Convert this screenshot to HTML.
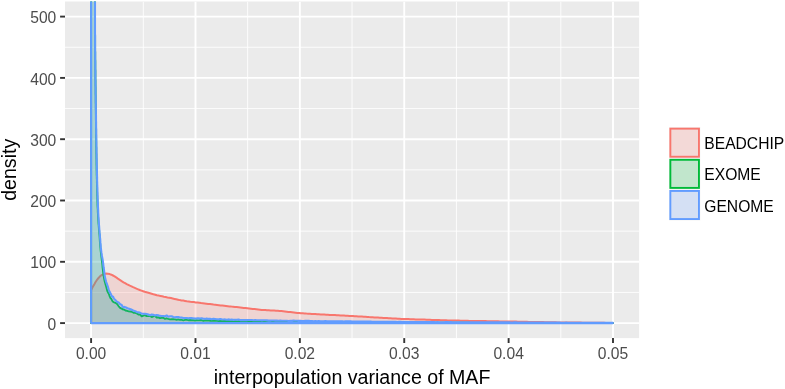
<!DOCTYPE html>
<html lang="en"><head><meta charset="utf-8"><title>interpopulation variance of MAF density</title>
<style>html,body{margin:0;padding:0;background:#fff}svg{display:block}</style></head>
<body>
<svg width="785" height="389" viewBox="0 0 785 389" font-family="'Liberation Sans', Arial, Helvetica, sans-serif">
<rect width="785" height="389" fill="#fff"/>
<rect x="65.0" y="1.5" width="574.1" height="336.6" fill="#EBEBEB"/>
<defs><clipPath id="cp"><rect x="65.0" y="1.5" width="574.1" height="336.6"/></clipPath></defs>
<g clip-path="url(#cp)">
<g stroke="#fff" stroke-width="0.95" stroke-opacity="0.9">
<line x1="143.29" x2="143.29" y1="1.5" y2="338.1"/>
<line x1="247.67" x2="247.67" y1="1.5" y2="338.1"/>
<line x1="352.05" x2="352.05" y1="1.5" y2="338.1"/>
<line x1="456.43" x2="456.43" y1="1.5" y2="338.1"/>
<line x1="560.81" x2="560.81" y1="1.5" y2="338.1"/>
<line y1="292.45" y2="292.45" x1="65.0" x2="639.1"/>
<line y1="231.15" y2="231.15" x1="65.0" x2="639.1"/>
<line y1="169.85" y2="169.85" x1="65.0" x2="639.1"/>
<line y1="108.55" y2="108.55" x1="65.0" x2="639.1"/>
<line y1="47.25" y2="47.25" x1="65.0" x2="639.1"/>
</g>
<g stroke="#fff" stroke-width="1.9">
<line x1="91.10" x2="91.10" y1="1.5" y2="338.1"/>
<line x1="195.48" x2="195.48" y1="1.5" y2="338.1"/>
<line x1="299.86" x2="299.86" y1="1.5" y2="338.1"/>
<line x1="404.24" x2="404.24" y1="1.5" y2="338.1"/>
<line x1="508.62" x2="508.62" y1="1.5" y2="338.1"/>
<line x1="613.00" x2="613.00" y1="1.5" y2="338.1"/>
<line y1="323.10" y2="323.10" x1="65.0" x2="639.1"/>
<line y1="261.80" y2="261.80" x1="65.0" x2="639.1"/>
<line y1="200.50" y2="200.50" x1="65.0" x2="639.1"/>
<line y1="139.20" y2="139.20" x1="65.0" x2="639.1"/>
<line y1="77.90" y2="77.90" x1="65.0" x2="639.1"/>
<line y1="16.60" y2="16.60" x1="65.0" x2="639.1"/>
</g>
<path d="M91.1 323.1 L91.1 290.2 L91.9 288.6 L92.7 287.0 L93.6 285.4 L94.5 283.9 L95.4 282.3 L96.4 280.8 L97.4 279.3 L98.5 278.0 L99.8 276.6 L101.1 275.4 L102.6 274.6 L104.4 273.9 L106.1 273.6 L107.9 273.8 L109.7 274.1 L111.4 274.7 L113.0 275.5 L114.6 276.3 L116.1 277.3 L117.5 278.4 L119.0 279.4 L120.5 280.4 L122.0 281.4 L123.5 282.3 L125.1 283.2 L126.7 284.1 L128.3 284.9 L129.9 285.7 L131.5 286.4 L133.1 287.2 L134.8 287.9 L136.4 288.6 L138.1 289.3 L139.8 290.0 L141.4 290.6 L143.1 291.2 L144.8 291.8 L146.5 292.3 L148.3 292.8 L150.0 293.3 L151.7 293.8 L153.4 294.3 L155.2 294.7 L156.9 295.2 L158.7 295.6 L160.4 295.9 L162.2 296.3 L163.9 296.7 L165.7 297.0 L167.5 297.4 L169.2 297.7 L171.0 298.1 L172.7 298.5 L174.5 298.9 L176.2 299.3 L178.0 299.7 L179.7 300.1 L181.5 300.4 L183.3 300.6 L185.0 300.9 L186.8 301.2 L188.6 301.4 L190.4 301.7 L192.2 301.9 L193.9 302.1 L195.7 302.4 L197.5 302.6 L199.3 302.8 L201.1 303.1 L202.8 303.3 L204.6 303.5 L206.4 303.7 L208.2 303.9 L210.0 304.1 L211.7 304.3 L213.5 304.6 L215.3 304.8 L217.1 305.0 L218.9 305.2 L220.7 305.4 L222.4 305.6 L224.2 305.8 L226.0 306.0 L227.8 306.2 L229.6 306.4 L231.4 306.6 L233.1 306.7 L234.9 306.9 L236.7 307.1 L238.5 307.3 L240.3 307.5 L242.1 307.7 L243.8 307.9 L245.6 308.1 L247.4 308.3 L249.2 308.5 L251.0 308.7 L252.8 308.9 L254.5 309.1 L256.3 309.3 L258.1 309.5 L259.9 309.7 L261.7 309.9 L263.5 310.0 L265.3 310.1 L267.0 310.2 L268.8 310.3 L270.6 310.4 L272.4 310.5 L274.2 310.6 L276.0 310.7 L277.8 310.8 L279.6 311.0 L281.4 311.1 L283.2 311.3 L284.9 311.5 L286.7 311.7 L288.5 311.9 L290.3 312.1 L292.1 312.3 L293.9 312.5 L295.6 312.7 L297.4 312.9 L299.2 313.0 L301.0 313.2 L302.8 313.3 L304.6 313.4 L306.4 313.6 L308.2 313.7 L309.9 313.8 L311.7 313.9 L313.5 314.0 L315.3 314.1 L317.1 314.2 L318.9 314.3 L320.7 314.4 L322.5 314.5 L324.3 314.6 L326.1 314.7 L327.9 314.8 L329.7 314.9 L331.4 315.0 L333.2 315.0 L335.0 315.1 L336.8 315.2 L338.6 315.3 L340.4 315.4 L342.2 315.5 L344.0 315.6 L345.8 315.7 L347.6 315.8 L349.4 315.9 L351.2 316.0 L353.0 316.1 L354.7 316.2 L356.5 316.3 L358.3 316.4 L360.1 316.5 L361.9 316.6 L363.7 316.7 L365.5 316.8 L367.3 316.9 L369.1 317.1 L370.9 317.2 L372.7 317.3 L374.4 317.4 L376.2 317.5 L378.0 317.6 L379.8 317.7 L381.6 317.8 L383.4 317.9 L385.2 318.0 L387.0 318.1 L388.8 318.2 L390.6 318.3 L392.4 318.4 L394.2 318.5 L395.9 318.6 L397.7 318.7 L399.5 318.8 L401.3 318.9 L403.1 318.9 L404.9 319.0 L406.7 319.1 L408.5 319.1 L410.3 319.2 L412.1 319.3 L413.9 319.3 L415.7 319.4 L417.5 319.4 L419.3 319.5 L421.0 319.5 L422.8 319.6 L424.6 319.6 L426.4 319.7 L428.2 319.8 L430.0 319.8 L431.8 319.9 L433.6 319.9 L435.4 320.0 L437.2 320.1 L439.0 320.1 L440.8 320.2 L442.6 320.2 L444.4 320.3 L446.2 320.3 L447.9 320.4 L449.7 320.4 L451.5 320.5 L453.3 320.5 L455.1 320.6 L456.9 320.6 L458.7 320.6 L460.5 320.7 L462.3 320.7 L464.1 320.8 L465.9 320.8 L467.7 320.8 L469.5 320.9 L471.3 320.9 L473.1 320.9 L474.9 321.0 L476.6 321.0 L478.4 321.0 L480.2 321.0 L482.0 321.1 L483.8 321.1 L485.6 321.1 L487.4 321.2 L489.2 321.2 L491.0 321.2 L492.8 321.2 L494.6 321.3 L496.4 321.3 L498.2 321.3 L500.0 321.4 L501.8 321.4 L503.6 321.4 L505.4 321.4 L507.1 321.5 L508.9 321.5 L510.7 321.5 L512.5 321.6 L514.3 321.6 L516.1 321.6 L517.9 321.7 L519.7 321.7 L521.5 321.7 L523.3 321.8 L525.1 321.8 L526.9 321.8 L528.7 321.9 L530.5 321.9 L532.3 321.9 L534.1 322.0 L535.9 322.0 L537.6 322.0 L539.4 322.1 L541.2 322.1 L543.0 322.1 L544.8 322.2 L546.6 322.2 L548.4 322.2 L550.2 322.3 L552.0 322.3 L553.8 322.3 L555.6 322.3 L557.4 322.4 L559.2 322.4 L561.0 322.4 L562.8 322.4 L564.6 322.5 L566.4 322.5 L568.1 322.5 L569.9 322.5 L571.7 322.5 L573.5 322.6 L575.3 322.6 L577.1 322.6 L578.9 322.6 L580.7 322.6 L582.5 322.7 L584.3 322.7 L586.1 322.7 L587.9 322.7 L589.7 322.7 L591.5 322.7 L593.3 322.8 L595.1 322.8 L596.9 322.8 L598.6 322.8 L600.4 322.8 L602.2 322.8 L604.0 322.8 L605.8 322.9 L607.6 322.9 L609.4 322.9 L611.2 322.9 L613.0 322.9 L613.0 323.1 Z" fill="#F8766D" fill-opacity="0.2" stroke="#F8766D" stroke-width="2.0" stroke-linejoin="round"/>
<path d="M91.1 323.1 L91.1 -30.0 L94.9 -30.0 L94.9 -28.3 L94.9 -26.6 L94.9 -25.0 L94.9 -23.3 L94.9 -21.6 L94.9 -19.9 L94.9 -18.3 L95.0 -16.6 L95.0 -14.9 L95.0 -13.2 L95.0 -11.5 L95.0 -9.9 L95.0 -8.2 L95.0 -6.5 L95.0 -4.8 L95.0 -3.1 L95.0 -1.5 L95.0 0.2 L95.0 1.9 L95.0 3.6 L95.0 5.2 L95.0 6.9 L95.0 8.6 L95.0 10.3 L95.0 12.0 L95.0 13.6 L95.0 15.3 L95.0 17.0 L95.0 18.7 L95.0 20.4 L95.0 22.0 L95.0 23.7 L95.0 25.4 L95.0 27.1 L95.0 28.7 L95.0 30.4 L95.0 32.1 L95.0 33.8 L95.1 35.5 L95.1 37.1 L95.1 38.8 L95.1 40.5 L95.1 42.2 L95.1 43.8 L95.1 45.5 L95.1 47.2 L95.1 48.9 L95.1 50.6 L95.2 52.2 L95.2 53.9 L95.2 55.6 L95.2 57.3 L95.2 59.0 L95.3 60.6 L95.3 62.3 L95.3 64.0 L95.3 65.7 L95.3 67.3 L95.3 69.0 L95.4 70.7 L95.4 72.4 L95.4 74.1 L95.4 75.7 L95.4 77.4 L95.4 79.1 L95.5 80.8 L95.5 82.4 L95.5 84.1 L95.5 85.8 L95.6 87.5 L95.6 89.2 L95.6 90.8 L95.6 92.5 L95.6 94.2 L95.7 95.9 L95.7 97.6 L95.7 99.2 L95.7 100.9 L95.7 102.6 L95.8 104.3 L95.8 105.9 L95.8 107.6 L95.8 109.3 L95.9 111.0 L95.9 112.7 L95.9 114.3 L95.9 116.0 L95.9 117.7 L95.9 119.4 L96.0 121.0 L96.0 122.7 L96.0 124.4 L96.0 126.1 L96.0 127.8 L96.1 129.4 L96.1 131.1 L96.1 132.8 L96.1 134.5 L96.1 136.2 L96.1 137.8 L96.2 139.5 L96.2 141.2 L96.2 142.9 L96.2 144.5 L96.2 146.2 L96.3 147.9 L96.3 149.6 L96.3 151.3 L96.3 152.9 L96.4 154.6 L96.4 156.3 L96.4 158.0 L96.5 159.6 L96.5 161.3 L96.5 163.0 L96.5 164.7 L96.6 166.4 L96.6 168.0 L96.6 169.7 L96.7 171.4 L96.7 173.1 L96.7 174.7 L96.8 176.4 L96.8 178.1 L96.9 179.8 L96.9 181.5 L96.9 183.1 L97.0 184.8 L97.0 186.5 L97.1 188.2 L97.1 189.9 L97.1 191.5 L97.2 193.2 L97.2 194.9 L97.3 196.6 L97.3 198.2 L97.4 199.9 L97.4 201.6 L97.5 203.3 L97.5 204.9 L97.6 206.6 L97.7 208.3 L97.8 210.0 L97.8 211.7 L97.9 213.3 L98.0 215.0 L98.1 216.7 L98.2 218.4 L98.3 220.0 L98.4 221.7 L98.5 223.4 L98.7 225.1 L98.8 226.7 L98.9 228.4 L99.1 230.1 L99.2 231.7 L99.3 233.4 L99.5 235.1 L99.6 236.8 L99.7 238.4 L99.8 240.1 L99.9 241.8 L100.1 243.5 L100.2 245.1 L100.3 246.8 L100.5 248.5 L100.6 250.2 L100.8 251.8 L101.0 253.5 L101.2 255.2 L101.4 256.8 L101.6 258.5 L101.8 260.2 L102.0 261.8 L102.2 263.5 L102.4 265.2 L102.5 266.8 L102.7 268.5 L102.9 270.2 L103.1 271.8 L103.3 273.5 L103.5 275.2 L103.8 276.8 L104.1 278.5 L104.4 280.1 L104.8 281.8 L105.3 283.4 L105.7 285.0 L106.2 286.6 L106.6 288.2 L107.0 289.9 L107.5 291.5 L108.1 292.7 L108.8 293.7 L109.5 295.8 L110.4 298.0 L111.3 298.8 L112.3 300.8 L113.5 302.2 L114.8 302.6 L116.0 303.1 L117.3 304.2 L118.5 306.0 L119.8 307.6 L121.1 308.3 L122.5 309.2 L124.0 309.5 L125.5 310.5 L127.1 310.8 L128.7 311.4 L130.3 311.5 L131.9 311.8 L133.5 312.8 L135.2 312.9 L136.8 313.4 L138.4 314.5 L140.1 314.5 L141.7 316.3 L143.4 315.6 L145.0 315.1 L146.7 316.1 L148.4 316.1 L150.0 316.0 L151.7 317.0 L153.3 316.4 L155.0 315.8 L156.7 317.5 L158.3 317.3 L160.0 318.2 L161.6 317.8 L163.3 317.8 L165.0 318.9 L166.6 318.3 L168.3 318.9 L170.0 319.4 L171.6 319.2 L173.3 319.3 L175.0 319.4 L176.7 319.7 L178.3 319.4 L180.0 319.8 L181.7 319.9 L183.4 320.3 L185.0 319.9 L186.7 319.8 L188.4 320.2 L190.1 320.0 L191.7 320.2 L193.4 320.3 L195.1 320.5 L196.8 320.2 L198.5 320.4 L200.1 320.0 L201.8 320.3 L203.5 320.8 L205.2 320.4 L206.8 320.5 L208.5 320.4 L210.2 320.8 L211.9 320.7 L213.6 320.6 L215.2 320.9 L216.9 320.9 L218.6 321.0 L220.3 320.8 L222.0 321.2 L223.6 321.0 L225.3 321.0 L227.0 321.0 L228.7 321.0 L230.3 321.2 L232.0 321.1 L233.7 321.3 L235.4 321.2 L237.1 321.4 L238.7 321.3 L240.4 321.3 L242.1 321.1 L243.8 321.3 L245.4 321.4 L247.1 321.4 L248.8 321.4 L250.5 321.4 L252.2 321.4 L253.8 321.4 L255.5 321.6 L257.2 321.5 L258.9 321.5 L260.5 321.4 L262.2 321.5 L263.9 321.7 L265.6 321.6 L267.3 321.5 L268.9 321.8 L270.6 321.8 L272.3 321.7 L274.0 321.7 L275.7 321.8 L277.3 321.8 L279.0 321.8 L280.7 321.7 L282.4 321.9 L284.0 321.8 L285.7 321.9 L287.4 321.6 L289.1 321.9 L290.8 321.9 L292.4 321.8 L294.1 321.9 L295.8 321.9 L297.5 321.9 L299.1 321.9 L300.8 321.9 L302.5 322.0 L304.2 322.0 L305.9 322.0 L307.5 322.0 L309.2 322.0 L310.9 322.1 L312.6 321.9 L314.3 321.9 L315.9 322.0 L317.6 322.0 L319.3 322.0 L321.0 322.1 L322.6 322.1 L324.3 322.0 L326.0 322.2 L327.7 322.0 L329.4 322.2 L331.0 322.1 L332.7 322.1 L334.4 322.2 L336.1 322.2 L337.8 322.2 L339.4 322.2 L341.1 322.3 L342.8 322.3 L344.5 322.3 L346.1 322.3 L347.8 322.3 L349.5 322.3 L351.2 322.3 L352.9 322.4 L354.5 322.4 L356.2 322.4 L357.9 322.4 L359.6 322.4 L361.2 322.4 L362.9 322.4 L364.6 322.4 L366.3 322.5 L368.0 322.4 L369.6 322.4 L371.3 322.5 L373.0 322.5 L374.7 322.6 L376.4 322.5 L378.0 322.5 L379.7 322.4 L381.4 322.5 L383.1 322.5 L384.7 322.5 L386.4 322.6 L388.1 322.5 L389.8 322.5 L391.5 322.6 L393.1 322.5 L394.8 322.6 L396.5 322.6 L398.2 322.5 L399.8 322.6 L401.5 322.6 L403.2 322.6 L404.9 322.6 L406.6 322.6 L408.2 322.6 L409.9 322.6 L411.6 322.7 L413.3 322.7 L415.0 322.7 L416.6 322.7 L418.3 322.7 L420.0 322.7 L421.7 322.7 L423.3 322.7 L425.0 322.7 L426.7 322.7 L428.4 322.7 L430.1 322.7 L431.7 322.7 L433.4 322.7 L435.1 322.7 L436.8 322.8 L438.5 322.7 L440.1 322.7 L441.8 322.8 L443.5 322.7 L445.2 322.8 L446.8 322.8 L448.5 322.8 L450.2 322.8 L451.9 322.8 L453.6 322.8 L455.2 322.8 L456.9 322.8 L458.6 322.8 L460.3 322.8 L461.9 322.8 L463.6 322.8 L465.3 322.8 L467.0 322.8 L468.7 322.8 L470.3 322.9 L472.0 322.9 L473.7 322.9 L475.4 322.9 L477.1 322.9 L478.7 322.9 L480.4 322.9 L482.1 322.9 L483.8 322.9 L485.4 322.9 L487.1 322.9 L488.8 322.9 L490.5 322.9 L492.2 322.9 L493.8 322.9 L495.5 322.9 L497.2 322.9 L498.9 322.9 L500.5 323.0 L502.2 322.9 L503.9 323.0 L505.6 322.9 L507.3 322.9 L508.9 323.0 L510.6 323.0 L512.3 323.0 L514.0 323.0 L515.7 323.0 L517.3 323.0 L519.0 323.0 L520.7 323.0 L522.4 323.0 L524.0 323.0 L525.7 323.0 L527.4 323.0 L529.1 323.0 L530.8 323.0 L532.4 323.0 L534.1 323.0 L535.8 323.0 L537.5 323.0 L539.2 323.0 L540.8 323.0 L542.5 323.0 L544.2 323.0 L545.9 323.0 L547.5 323.0 L549.2 323.0 L550.9 323.0 L552.6 323.0 L554.3 323.1 L555.9 323.1 L557.6 323.1 L559.3 323.1 L561.0 323.1 L562.6 323.1 L564.3 323.1 L566.0 323.1 L567.7 323.1 L569.4 323.1 L571.0 323.1 L572.7 323.1 L574.4 323.1 L576.1 323.1 L577.8 323.1 L579.4 323.1 L581.1 323.1 L582.8 323.1 L584.5 323.1 L586.1 323.1 L587.8 323.1 L589.5 323.1 L591.2 323.1 L592.9 323.1 L594.5 323.1 L596.2 323.1 L597.9 323.1 L599.6 323.1 L601.3 323.1 L602.9 323.1 L604.6 323.1 L606.3 323.1 L608.0 323.1 L609.6 323.1 L611.3 323.1 L613.0 323.1 L613.0 323.1 Z" fill="#00BA38" fill-opacity="0.2" stroke="#00BA38" stroke-width="1.9" stroke-linejoin="round"/>
<path d="M91.1 323.1 L91.1 -30.0 L94.9 -30.0 L94.9 -28.3 L94.9 -26.7 L94.9 -25.0 L94.9 -23.3 L94.9 -21.6 L94.9 -20.0 L94.9 -18.3 L95.0 -16.6 L95.0 -15.0 L95.0 -13.3 L95.0 -11.6 L95.0 -9.9 L95.0 -8.3 L95.0 -6.6 L95.0 -4.9 L95.0 -3.2 L95.0 -1.6 L95.0 0.1 L95.0 1.8 L95.0 3.4 L95.0 5.1 L95.0 6.8 L95.0 8.5 L95.0 10.1 L95.0 11.8 L95.0 13.5 L95.0 15.1 L95.0 16.8 L95.0 18.5 L95.0 20.2 L95.0 21.8 L95.0 23.5 L95.0 25.2 L95.0 26.9 L95.0 28.5 L95.0 30.2 L95.0 31.9 L95.0 33.5 L95.1 35.2 L95.1 36.9 L95.1 38.6 L95.1 40.2 L95.1 41.9 L95.1 43.6 L95.1 45.2 L95.1 46.9 L95.1 48.6 L95.1 50.3 L95.2 51.9 L95.2 53.6 L95.2 55.3 L95.2 57.0 L95.2 58.6 L95.2 60.3 L95.3 62.0 L95.3 63.6 L95.3 65.3 L95.3 67.0 L95.3 68.7 L95.4 70.3 L95.4 72.0 L95.4 73.7 L95.4 75.3 L95.4 77.0 L95.4 78.7 L95.5 80.4 L95.5 82.0 L95.5 83.7 L95.5 85.4 L95.6 87.0 L95.6 88.7 L95.6 90.4 L95.6 92.1 L95.6 93.7 L95.7 95.4 L95.7 97.1 L95.7 98.8 L95.7 100.4 L95.8 102.1 L95.8 103.8 L95.8 105.4 L95.8 107.1 L95.9 108.8 L95.9 110.5 L95.9 112.1 L95.9 113.8 L96.0 115.5 L96.0 117.1 L96.0 118.8 L96.0 120.5 L96.1 122.2 L96.1 123.8 L96.1 125.5 L96.1 127.2 L96.2 128.8 L96.2 130.5 L96.2 132.2 L96.2 133.9 L96.3 135.5 L96.3 137.2 L96.3 138.9 L96.3 140.6 L96.4 142.2 L96.4 143.9 L96.4 145.6 L96.5 147.2 L96.5 148.9 L96.5 150.6 L96.5 152.3 L96.6 153.9 L96.6 155.6 L96.6 157.3 L96.7 158.9 L96.7 160.6 L96.7 162.3 L96.8 164.0 L96.8 165.6 L96.8 167.3 L96.9 169.0 L96.9 170.6 L96.9 172.3 L97.0 174.0 L97.0 175.7 L97.1 177.3 L97.1 179.0 L97.1 180.7 L97.2 182.3 L97.2 184.0 L97.3 185.7 L97.3 187.4 L97.4 189.0 L97.4 190.7 L97.5 192.4 L97.5 194.0 L97.6 195.7 L97.6 197.4 L97.7 199.1 L97.7 200.7 L97.8 202.4 L97.9 204.1 L97.9 205.7 L98.0 207.4 L98.1 209.1 L98.2 210.8 L98.2 212.4 L98.3 214.1 L98.4 215.8 L98.5 217.4 L98.6 219.1 L98.7 220.8 L98.8 222.4 L98.9 224.1 L99.1 225.8 L99.2 227.4 L99.3 229.1 L99.5 230.8 L99.6 232.4 L99.8 234.1 L99.9 235.8 L100.0 237.4 L100.2 239.1 L100.3 240.8 L100.4 242.4 L100.6 244.1 L100.7 245.8 L100.8 247.4 L101.0 249.1 L101.2 250.8 L101.4 252.4 L101.7 254.1 L101.9 255.7 L102.2 257.4 L102.5 259.0 L102.8 260.7 L103.0 262.3 L103.2 264.0 L103.4 265.6 L103.6 267.3 L103.9 269.0 L104.1 270.6 L104.3 272.3 L104.5 273.9 L104.7 275.6 L105.0 277.2 L105.3 278.9 L105.8 280.5 L106.2 282.1 L106.8 283.7 L107.4 285.3 L107.9 286.9 L108.4 288.5 L108.9 290.1 L109.5 291.6 L110.3 293.1 L111.1 294.6 L112.0 296.7 L113.0 296.5 L114.0 298.8 L115.1 299.7 L116.2 300.9 L117.5 302.1 L118.8 302.6 L120.2 304.2 L121.6 304.9 L123.0 307.2 L124.5 306.9 L126.0 307.5 L127.5 308.2 L129.1 308.7 L130.6 309.2 L132.2 310.0 L133.8 310.9 L135.4 311.2 L136.9 312.1 L138.6 312.2 L140.2 312.8 L141.8 313.7 L143.4 313.7 L145.1 313.7 L146.7 314.0 L148.4 314.5 L150.0 315.2 L151.7 314.6 L153.3 314.8 L155.0 315.4 L156.7 314.9 L158.3 315.3 L160.0 315.9 L161.7 316.0 L163.3 316.0 L165.0 316.3 L166.7 315.4 L168.3 316.7 L170.0 316.3 L171.7 316.3 L173.3 317.0 L175.0 317.3 L176.6 317.1 L178.3 317.1 L180.0 317.5 L181.6 317.6 L183.3 318.1 L185.0 318.0 L186.7 318.0 L188.3 318.3 L190.0 318.1 L191.7 318.0 L193.3 318.4 L195.0 318.5 L196.7 318.4 L198.3 318.3 L200.0 318.6 L201.7 318.2 L203.4 318.8 L205.0 318.9 L206.7 318.5 L208.4 318.9 L210.0 318.8 L211.7 319.2 L213.4 318.7 L215.1 319.0 L216.7 319.3 L218.4 319.4 L220.1 318.9 L221.7 319.3 L223.4 319.5 L225.1 319.4 L226.8 319.8 L228.4 319.4 L230.1 319.7 L231.8 319.5 L233.4 319.9 L235.1 319.7 L236.8 319.7 L238.5 319.6 L240.1 320.1 L241.8 320.0 L243.5 320.1 L245.1 320.1 L246.8 320.1 L248.5 320.0 L250.2 320.0 L251.8 320.0 L253.5 320.3 L255.2 320.0 L256.8 320.2 L258.5 320.2 L260.2 320.3 L261.9 320.4 L263.5 320.2 L265.2 320.2 L266.9 320.4 L268.5 320.6 L270.2 320.6 L271.9 320.5 L273.6 320.5 L275.2 320.6 L276.9 320.6 L278.6 320.7 L280.3 320.5 L281.9 320.7 L283.6 320.7 L285.3 320.8 L286.9 320.8 L288.6 321.0 L290.3 320.9 L292.0 320.9 L293.6 320.6 L295.3 320.8 L297.0 320.8 L298.6 320.9 L300.3 320.7 L302.0 321.0 L303.7 321.0 L305.3 320.8 L307.0 320.9 L308.7 320.9 L310.3 321.0 L312.0 321.1 L313.7 321.3 L315.4 321.1 L317.0 321.2 L318.7 321.1 L320.4 321.3 L322.1 321.2 L323.7 321.3 L325.4 321.1 L327.1 321.2 L328.7 321.2 L330.4 321.4 L332.1 321.3 L333.8 321.3 L335.4 321.3 L337.1 321.4 L338.8 321.3 L340.4 321.3 L342.1 321.4 L343.8 321.6 L345.5 321.4 L347.1 321.4 L348.8 321.4 L350.5 321.4 L352.1 321.5 L353.8 321.6 L355.5 321.5 L357.2 321.6 L358.8 321.6 L360.5 321.6 L362.2 321.5 L363.9 321.6 L365.5 321.6 L367.2 321.6 L368.9 321.6 L370.5 321.6 L372.2 321.7 L373.9 321.8 L375.6 321.7 L377.2 321.7 L378.9 321.8 L380.6 321.8 L382.2 321.9 L383.9 321.7 L385.6 321.8 L387.3 321.8 L388.9 321.8 L390.6 321.9 L392.3 321.9 L394.0 321.9 L395.6 321.9 L397.3 322.0 L399.0 321.9 L400.6 321.9 L402.3 322.0 L404.0 321.9 L405.7 322.0 L407.3 322.0 L409.0 322.1 L410.7 322.0 L412.3 322.0 L414.0 322.0 L415.7 322.0 L417.4 322.0 L419.0 322.0 L420.7 322.0 L422.4 322.1 L424.0 322.0 L425.7 322.1 L427.4 322.0 L429.1 322.0 L430.7 322.1 L432.4 322.0 L434.1 322.1 L435.8 322.2 L437.4 322.1 L439.1 322.2 L440.8 322.2 L442.4 322.2 L444.1 322.2 L445.8 322.1 L447.5 322.1 L449.1 322.2 L450.8 322.1 L452.5 322.2 L454.1 322.2 L455.8 322.3 L457.5 322.2 L459.2 322.2 L460.8 322.2 L462.5 322.2 L464.2 322.2 L465.9 322.3 L467.5 322.3 L469.2 322.3 L470.9 322.2 L472.5 322.3 L474.2 322.2 L475.9 322.3 L477.6 322.3 L479.2 322.4 L480.9 322.4 L482.6 322.3 L484.2 322.3 L485.9 322.3 L487.6 322.3 L489.3 322.4 L490.9 322.3 L492.6 322.3 L494.3 322.4 L496.0 322.4 L497.6 322.4 L499.3 322.4 L501.0 322.4 L502.6 322.4 L504.3 322.4 L506.0 322.4 L507.7 322.4 L509.3 322.4 L511.0 322.5 L512.7 322.5 L514.3 322.4 L516.0 322.4 L517.7 322.5 L519.4 322.5 L521.0 322.5 L522.7 322.5 L524.4 322.5 L526.0 322.5 L527.7 322.6 L529.4 322.5 L531.1 322.5 L532.7 322.5 L534.4 322.6 L536.1 322.5 L537.8 322.6 L539.4 322.6 L541.1 322.6 L542.8 322.5 L544.4 322.6 L546.1 322.6 L547.8 322.6 L549.5 322.6 L551.1 322.6 L552.8 322.6 L554.5 322.6 L556.1 322.6 L557.8 322.6 L559.5 322.6 L561.2 322.7 L562.8 322.7 L564.5 322.7 L566.2 322.6 L567.9 322.7 L569.5 322.7 L571.2 322.7 L572.9 322.7 L574.5 322.7 L576.2 322.7 L577.9 322.7 L579.6 322.7 L581.2 322.7 L582.9 322.7 L584.6 322.7 L586.2 322.7 L587.9 322.7 L589.6 322.7 L591.3 322.7 L592.9 322.7 L594.6 322.8 L596.3 322.7 L598.0 322.8 L599.6 322.8 L601.3 322.8 L603.0 322.8 L604.6 322.7 L606.3 322.8 L608.0 322.8 L609.7 322.8 L611.3 322.8 L613.0 322.8 L613.0 323.1 Z" fill="#619CFF" fill-opacity="0.2" stroke="#619CFF" stroke-width="2.1" stroke-linejoin="bevel"/>
</g>
<g stroke="#333" stroke-width="1.9">
<line x1="91.10" x2="91.10" y1="338.1" y2="343.0"/>
<line x1="195.48" x2="195.48" y1="338.1" y2="343.0"/>
<line x1="299.86" x2="299.86" y1="338.1" y2="343.0"/>
<line x1="404.24" x2="404.24" y1="338.1" y2="343.0"/>
<line x1="508.62" x2="508.62" y1="338.1" y2="343.0"/>
<line x1="613.00" x2="613.00" y1="338.1" y2="343.0"/>
<line y1="323.10" y2="323.10" x1="60.1" x2="65.0"/>
<line y1="261.80" y2="261.80" x1="60.1" x2="65.0"/>
<line y1="200.50" y2="200.50" x1="60.1" x2="65.0"/>
<line y1="139.20" y2="139.20" x1="60.1" x2="65.0"/>
<line y1="77.90" y2="77.90" x1="60.1" x2="65.0"/>
<line y1="16.60" y2="16.60" x1="60.1" x2="65.0"/>
</g>
<g fill="#4D4D4D" font-size="15.64px">
<text x="91.10" y="359.4" text-anchor="middle">0.00</text>
<text x="195.48" y="359.4" text-anchor="middle">0.01</text>
<text x="299.86" y="359.4" text-anchor="middle">0.02</text>
<text x="404.24" y="359.4" text-anchor="middle">0.03</text>
<text x="508.62" y="359.4" text-anchor="middle">0.04</text>
<text x="613.00" y="359.4" text-anchor="middle">0.05</text>
<text x="56.3" y="329.70" text-anchor="end">0</text>
<text x="56.3" y="268.40" text-anchor="end">100</text>
<text x="56.3" y="207.10" text-anchor="end">200</text>
<text x="56.3" y="145.80" text-anchor="end">300</text>
<text x="56.3" y="84.50" text-anchor="end">400</text>
<text x="56.3" y="23.20" text-anchor="end">500</text>
</g>
<text x="352.1" y="383.8" text-anchor="middle" font-size="19.6px" fill="#000">interpopulation variance of MAF</text>
<text transform="translate(15.6 169.8) rotate(-90)" text-anchor="middle" font-size="19.6px" fill="#000">density</text>
<rect x="669.2" y="127.00" width="31.15" height="31.15" fill="#F2F2F2"/>
<rect x="670.35" y="128.65" width="28.6" height="28.1" fill="#F8766D" fill-opacity="0.2" stroke="#F8766D" stroke-width="1.9"/>
<text x="704.3" y="149.27" font-size="15.64px" fill="#000">BEADCHIP</text>
<rect x="669.2" y="158.15" width="31.15" height="31.15" fill="#F2F2F2"/>
<rect x="670.35" y="159.80" width="28.6" height="28.1" fill="#00BA38" fill-opacity="0.2" stroke="#00BA38" stroke-width="1.9"/>
<text x="704.3" y="180.42" font-size="15.64px" fill="#000">EXOME</text>
<rect x="669.2" y="189.30" width="31.15" height="31.15" fill="#F2F2F2"/>
<rect x="670.35" y="190.95" width="28.6" height="28.1" fill="#619CFF" fill-opacity="0.2" stroke="#619CFF" stroke-width="1.9"/>
<text x="704.3" y="211.57" font-size="15.64px" fill="#000">GENOME</text>
</svg>
</body></html>
